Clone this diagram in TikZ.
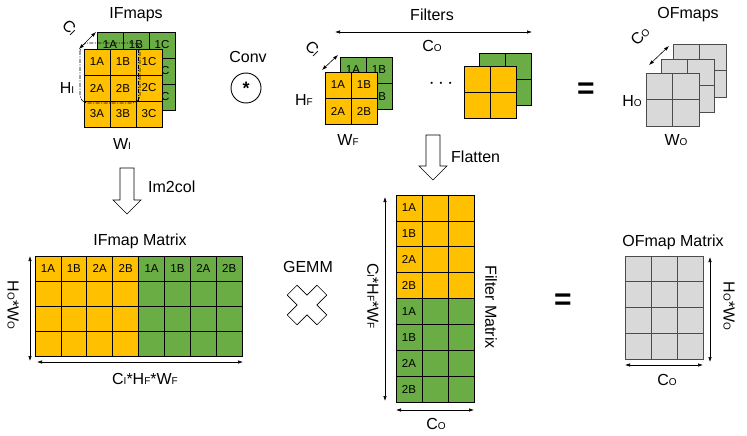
\documentclass[tikz,border=0pt]{standalone}
\usepackage{fontspec}
\setmainfont{Liberation Sans}
\usetikzlibrary{arrows.meta}
\definecolor{yel}{HTML}{FFC000}
\definecolor{grn}{HTML}{6AAD45}
\definecolor{gry}{HTML}{D9D9D9}
\newcommand\lo[1]{{\fontsize{10}{10}\selectfont #1}}
% x0 y0 cols rows w h fill
\newcommand\mygrid[7]{%
  \foreach \i in {1,...,#3}{\foreach \j in {1,...,#4}{%
    \draw[fill=#7,line width=0.8pt] ({#1+(\i-1)*#5},{#2+(\j-1)*#6}) rectangle ++(#5,#6);}}}
\tikzset{
  lbl/.style={font=\fontsize{16}{16}\selectfont,inner sep=0pt},
  cl/.style={font=\fontsize{11.5}{11.5}\selectfont,inner sep=0pt},
  dim/.style={{Latex[length=5pt,width=3.5pt]}-{Latex[length=5pt,width=3.5pt]},line width=0.6pt},
  hollow/.style={draw,fill=white,line width=0.6pt}
}
\begin{document}
\begin{tikzpicture}[x=1pt,y=-1pt]
\useasboundingbox (0,0) rectangle (747,436);
% ---------- IFmaps
\mygrid{97}{32}{3}{3}{26}{26}{grn}
\foreach \r/\rn in {1/1,2/2,3/3}{\foreach \c/\cn in {1/A,2/B,3/C}{
  \node[cl] (g\rn\cn) at ({97+(\c-0.5)*26},{32+(\r-0.5)*26}) {\rn\cn};}}
\mygrid{84}{49}{3}{3}{26}{26}{yel}
\foreach \r/\rn in {1/1,2/2,3/3}{\foreach \c/\cn in {1/A,2/B,3/C}{
  \node[cl] (y\rn\cn) at ({84+(\c-0.5)*26},{49+(\r-0.5)*26}) {\rn\cn};}}
\draw[dash pattern=on 4pt off 1.5pt on 1pt off 1.5pt,line width=0.6pt,rounded corners=8pt] (80,43) rectangle (140,103);
\draw[dash pattern=on 4pt off 1.5pt on 1pt off 1.5pt,line width=0.6pt] (138,49) -- (138,101);
\node[lbl] (ifm) at (136,15) {IFmaps};
\coordinate (ci1a) at (79,49); \coordinate (ci1b) at (96,32);
\draw[dim] (ci1a) -- (ci1b);
\node[lbl,rotate=-45] (ci1) at (70,28) {C\lo{I}};
\node[lbl] (hi) at (67,88) {H\lo{I}};
\node[lbl] (wi) at (122,144) {W\lo{I}};
% Conv
\node[lbl] (conv) at (248,57) {Conv};
\node[draw,circle,line width=0.9pt,minimum size=30pt,inner sep=0pt,font=\fontsize{18}{18}\selectfont\bfseries] (star) at (246,88) {*};
% ---------- Filters
\coordinate (fa) at (335,32); \coordinate (fb) at (532,32);
\draw[dim] (fa) -- (fb);
\node[lbl] (filt) at (432,15) {Filters};
\node[lbl] (co1) at (432,46) {C\lo{O}};
\mygrid{340}{57}{2}{2}{26}{26}{grn}
\node[cl] (f1g1a) at (353,70) {1A}; \node[cl] (f1g1b) at (379,70) {1B};
\node[cl] (f1g2a) at (353,96) {2A}; \node[cl] (f1g2b) at (379,96) {2B};
\mygrid{325}{72}{2}{2}{26}{26}{yel}
\node[cl] (f1y1a) at (338,85) {1A}; \node[cl] (f1y1b) at (364,85) {1B};
\node[cl] (f1y2a) at (338,111) {2A}; \node[cl] (f1y2b) at (364,111) {2B};
\coordinate (ci2a) at (322,70); \coordinate (ci2b) at (338,55);
\draw[dim] (ci2a) -- (ci2b);
\node[lbl,rotate=-45] (ci2) at (313,49) {C\lo{I}};
\node[lbl] (hf) at (304,100) {H\lo{F}};
\node[lbl] (wf) at (348,140) {W\lo{F}};
\node[font=\fontsize{20}{20}\selectfont,inner sep=0pt] (dots) at (441,84) {$\cdots$};
\mygrid{479}{53}{2}{2}{26}{26}{grn}
\mygrid{464}{66}{2}{2}{26}{26}{yel}
% equals
\node[font=\fontsize{30}{30}\selectfont\bfseries,inner sep=0pt] (eq1) at (586,91) {=};
% ---------- OFmaps
\begin{scope}[draw=black!70]
\mygrid{673}{44}{2}{2}{26.5}{26.5}{gry}
\mygrid{661}{59}{2}{2}{26.5}{26.5}{gry}
\mygrid{646}{73}{2}{2}{26.5}{26.5}{gry}
\end{scope}
\node[lbl] (ofm) at (688,15) {OFmaps};
\coordinate (coa) at (649,65); \coordinate (cob) at (669,46);
\draw[dim] (coa) -- (cob);
\node[lbl,rotate=45] (co2) at (640,36) {C\lo{O}};
\node[lbl] (ho) at (632,101) {H\lo{O}};
\node[lbl] (wo) at (676,140) {W\lo{O}};
% ---------- Im2col arrow
\draw[hollow] (120,168) -- (134,168) -- (134,200) -- (141,200) -- (127,214) -- (113,200) -- (120,200) -- cycle;
\node[lbl,anchor=west] (im2col) at (148,187) {Im2col};
% ---------- Flatten arrow
\draw[hollow] (426,135) -- (440,135) -- (440,166) -- (447,166) -- (433,180) -- (419,166) -- (426,166) -- cycle;
\node[lbl,anchor=west] (flat) at (451,157) {Flatten};
% ---------- IFmap matrix
\foreach \c in {1,...,8}{\foreach \r in {1,...,4}{
  \ifnum\c>4 \def\fc{grn}\else\def\fc{yel}\fi
  \draw[fill=\fc,line width=0.8pt] ({35+(\c-1)*25.9},{256+(\r-1)*25}) rectangle ++(25.9,25);}}
\foreach \c/\t in {1/1A,2/1B,3/2A,4/2B,5/1A,6/1B,7/2A,8/2B}{
  \node[cl] (im\c) at ({35+(\c-0.5)*25.9},268.5) {\t};}
\node[lbl] (ifmm) at (140,241) {IFmap Matrix};
\coordinate (v1a) at (30,256); \coordinate (v1b) at (30,361);
\draw[dim] (v1a) -- (v1b);
\node[lbl,rotate=-90] (howo1) at (13,305) {H\lo{O}*W\lo{O}};
\coordinate (h1a) at (37,362); \coordinate (h1b) at (243,362);
\draw[dim] (h1a) -- (h1b);
\node[lbl] (chw1) at (145,379) {C\lo{I}*H\lo{F}*W\lo{F}};
% GEMM
\node[lbl] (gemm) at (308,267) {GEMM};
\begin{scope}[shift={(307,305)},rotate=45]
\draw[line width=0.6pt,fill=white] (-7,-21) -- (7,-21) -- (7,-7) -- (21,-7) -- (21,7) -- (7,7) -- (7,21) -- (-7,21) -- (-7,7) -- (-21,7) -- (-21,-7) -- (-7,-7) -- cycle;
\end{scope}
% ---------- Filter matrix
\foreach \r in {1,...,8}{\foreach \c in {1,...,3}{
  \ifnum\r>4 \def\fc{grn}\else\def\fc{yel}\fi
  \draw[fill=\fc,line width=0.8pt] ({396+(\c-1)*26},{195+(\r-1)*25.9}) rectangle ++(26,25.9);}}
\foreach \r/\t in {1/1A,2/1B,3/2A,4/2B,5/1A,6/1B,7/2A,8/2B}{
  \node[cl] (fm\r) at (409,{195+(\r-0.5)*25.9}) {\t};}
\coordinate (v2a) at (385,197); \coordinate (v2b) at (385,401);
\draw[dim] (v2a) -- (v2b);
\node[lbl,rotate=-90] (chw2) at (373,296) {C\lo{I}*H\lo{F}*W\lo{F}};
\node[lbl,rotate=-90] (fmt) at (491,307) {Filter Matrix};
\coordinate (h2a) at (396,410); \coordinate (h2b) at (474,410);
\draw[dim] (h2a) -- (h2b);
\node[lbl] (co3) at (436,424) {C\lo{O}};
% equals 2
\node[font=\fontsize{30}{30}\selectfont\bfseries,inner sep=0pt] (eq2) at (563,302) {=};
% ---------- OFmap matrix
\begin{scope}[draw=black!70]
\mygrid{625}{256}{3}{4}{26}{25.8}{gry}
\end{scope}
\node[lbl] (ofmm) at (673,242) {OFmap Matrix};
\coordinate (v3a) at (710,257); \coordinate (v3b) at (710,362);
\draw[dim] (v3a) -- (v3b);
\node[lbl,rotate=-90] (howo2) at (729,306) {H\lo{O}*W\lo{O}};
\coordinate (h3a) at (625,365); \coordinate (h3b) at (703,365);
\draw[dim] (h3a) -- (h3b);
\node[lbl] (co4) at (667,380) {C\lo{O}};
\end{tikzpicture}
\end{document}
